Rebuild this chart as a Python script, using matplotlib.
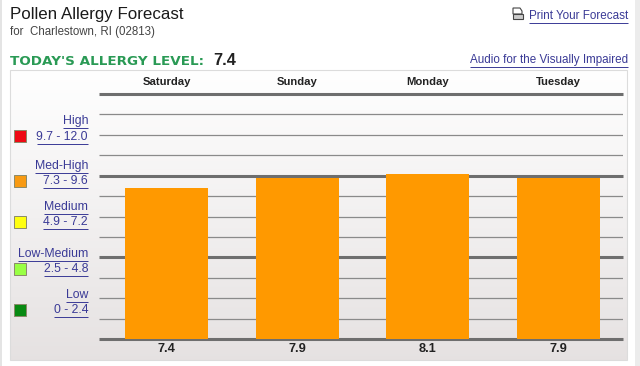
import numpy as np
import matplotlib
matplotlib.use('Agg')
import matplotlib.pyplot as plt
from matplotlib.patches import Rectangle, Polygon

plt.rcParams['font.family'] = ['Liberation Sans', 'DejaVu Sans']

# Chart data
days = ['Saturday', 'Sunday', 'Monday', 'Tuesday']
levels = [7.4, 7.9, 8.1, 7.9]
level_labels = ['7.4', '7.9', '8.1', '7.9']
thin_grid = [1, 2, 3, 5, 6, 7, 9, 10, 11]
thick_grid = [0, 4, 8, 12]

legend_names = ['High', 'Med-High', 'Medium', 'Low-Medium', 'Low']
legend_ranges = ['9.7 - 12.0', '7.3 - 9.6', '4.9 - 7.2', '2.5 - 4.8', '0 - 2.4']
legend_colors = ['#ee0a14', '#f89a12', '#ffff10', '#99ff44', '#088a12']

W, H = 640, 366
link = '#3a3a96'
fig = plt.figure(figsize=(W / 100, H / 100), dpi=100, facecolor='white')

# page layer, in screenshot pixels
bg = fig.add_axes([0, 0, 1, 1])
bg.set_xlim(0, W)
bg.set_ylim(H, 0)
bg.axis('off')

bg.add_patch(Rectangle((0, 0), 2, H, color='#e4e4e4', lw=0))
bg.add_patch(Rectangle((635, 0), 5, H, color='#ececec', lw=0))

# panel gradient, white at the top to a warm grey at the bottom
t = np.linspace(0, 1, 200).reshape(-1, 1, 1)
grad = (1 - t) * np.array([1.0, 1.0, 1.0]) + t * np.array([0.90, 0.885, 0.885])
bg.imshow(grad, extent=(10, 627, 360, 70), aspect='auto', zorder=1)
bg.set_xlim(0, W)
bg.set_ylim(H, 0)
bg.add_patch(Rectangle((10, 70), 617, 290, fill=False, ec='#dcdcdc', lw=0.8, zorder=2))

bg.text(10, 14.5, 'Pollen Allergy Forecast', fontsize=12.15, color='#1a1a1a', va='center', ha='left')
bg.text(10, 32.5, 'for  Charlestown, RI (02813)', fontsize=8.3, color='#444444', va='center', ha='left')
bg.text(10, 61.5, "TODAY'S ALLERGY LEVEL:", fontsize=9.7, color='#2a9a55', fontweight='bold',
        va='center', ha='left', family=['DejaVu Sans'])
bg.text(213, 60.5, '7.4', fontsize=11.8, color='#222222', fontweight='bold', va='center', ha='left')


def link_text(x, y, s, size):
    t = bg.text(x, y, s, fontsize=size, color=link, va='center', ha='right', zorder=3)
    box = t.get_window_extent(fig.canvas.get_renderer())
    x0 = box.x0 * W / (fig.get_figwidth() * 100)
    bg.plot([x0, x], [y + 6.5, y + 6.5], color=link, lw=0.7, zorder=3, solid_capstyle='butt')


link_text(628, 16, 'Print Your Forecast', 8.4)
link_text(628, 60, 'Audio for the Visually Impaired', 8.37)

# printer icon
bg.add_patch(Polygon([(513, 8), (520, 8), (522, 11), (522, 14), (513, 14)], closed=True,
                     fc='white', ec='#444444', lw=0.8, zorder=3))
bg.add_patch(Rectangle((513, 14), 10, 5, fc='#cccccc', ec='#444444', lw=0.8, zorder=3))

# legend
name_y = [121, 166, 207, 254, 295]
range_y = [137, 181, 222, 269, 310]
box_y = [136, 181, 222, 269, 310]
for name, rng, col, ny, ry, by in zip(legend_names, legend_ranges, legend_colors, name_y, range_y, box_y):
    link_text(88, ny, name, 8.8)
    link_text(88, ry, rng, 8.8)
    bg.add_patch(Rectangle((13.5, by - 6), 12, 12, fc=col, ec='#8a8a6a', lw=0.7, zorder=3))

# bar chart
ax = fig.add_axes([99 / W, 1 - 339 / H, 524 / W, 245 / H])
ax.patch.set_alpha(0)
x = np.arange(len(days))
ax.bar(x, levels, width=0.635, color='#ff9900', zorder=3)
ax.hlines(thin_grid, -0.5166, 3.4936, color='#8a8a8a', lw=0.9, zorder=1)
ax.hlines(thick_grid, -0.5166, 3.4936, color='#6e6e6e', lw=2.2, zorder=2, clip_on=False)
ax.set_xlim(-0.5166, 3.4936)
ax.set_ylim(0, 12)
for s in ax.spines.values():
    s.set_visible(False)
ax.set_yticks([])
ax.set_xticks(x)
ax.set_xticklabels(level_labels, fontsize=9.2, fontweight='bold', color='#222222')
ax.tick_params(axis='x', length=0, pad=3)
for i, d in enumerate(days):
    ax.annotate(d, (x[i], 12), xytext=(0, 5.4), textcoords='offset points', ha='center', va='bottom',
                fontsize=8.1, fontweight='bold', color='#222222', annotation_clip=False)

fig.savefig('out.png', dpi=100)
